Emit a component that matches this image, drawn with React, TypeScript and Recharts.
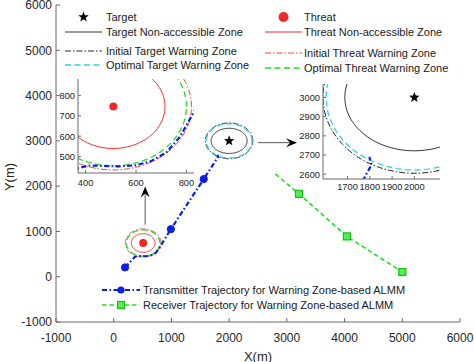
import React from "react";
import { ComposedChart, Line, Scatter, XAxis, YAxis, CartesianGrid, ReferenceLine } from "recharts";

// ---------------- data ----------------
const MAIN_X_TICKS = [-1000, 0, 1000, 2000, 3000, 4000, 5000, 6000];
const MAIN_Y_TICKS = [-1000, 0, 1000, 2000, 3000, 4000, 5000, 6000];
const MAIN_X_DOMAIN = [-1000, 6000];
const MAIN_Y_DOMAIN = [-1000, 6000];

const ZOOM1_X_TICKS = [400, 600, 800];
const ZOOM1_Y_TICKS = [500, 600, 700, 800];
const ZOOM1_X_DOMAIN = [370, 830];
const ZOOM1_Y_DOMAIN = [420, 880];

const ZOOM2_X_TICKS = [1700, 1800, 1900, 2000];
const ZOOM2_Y_TICKS = [2600, 2700, 2800, 2900, 3000];
const ZOOM2_X_DOMAIN = [1590, 2115];
const ZOOM2_Y_DOMAIN = [2575, 3070];

// target and zone radii [rx, ry]
const TARGET = { x: 2000, y: 3000 };
const TARGET_NON_ACCESSIBLE = [312, 278];
const TARGET_INITIAL_WARNING = [410, 395];
const TARGET_OPTIMAL_WARNING = [396, 378];

// threat and zone radii
const THREAT = { x: 510, y: 745 };
const THREAT_NON_ACCESSIBLE = 205;
const THREAT_INITIAL_WARNING = 310;
const THREAT_OPTIMAL_WARNING = 290;

// transmitter trajectory
const TX_X = [196, 370, 410, 470, 530, 600, 660, 720, 775, 830, 990, 1560, 1775, 1808, 1798];
const TX_Y = [205, 443, 456, 455, 452, 458, 478, 520, 598, 720, 1050, 2157, 2580, 2650, 2690];
const TX_MARK = [1, 0, 0, 0, 0, 0, 0, 0, 0, 0, 1, 1, 0, 0, 0];

// receiver trajectory
const RX_X = [2800, 3210, 4040, 5000];
const RX_Y = [2270, 1830, 890, 104];
const RX_MARK = [0, 1, 1, 1];

// annotation arrows [from, to]
const ARROW_THREAT = [{ x: 545, y: 1150 }, { x: 545, y: 1990 }];
const ARROW_TARGET = [{ x: 2500, y: 2960 }, { x: 3175, y: 2960 }];

const LABELS = {
  target: "Target",
  threat: "Threat",
  targetNA: "Target Non-accessible Zone",
  threatNA: "Threat Non-accessible Zone",
  targetInit: "Initial Target Warning Zone",
  threatInit: "Initial Threat Warning Zone",
  targetOpt: "Optimal Target Warning Zone",
  threatOpt: "Optimal Threat Warning Zone",
  tx: "Transmitter Trajectory for Warning Zone-based ALMM",
  rx: "Receiver Trajectory for Warning Zone-based ALMM",
  xTitle: "X(m)",
  yTitle: "Y(m)",
};

// ---------------- styles ----------------
const FONT = '"Liberation Sans", Arial, Helvetica, sans-serif';
const AXIS = "#6b6b6b";
const TEXT = "#262626";
const RED = "#f02828";
const BLUE = "#0a1ee6";
const GREEN_RX = "#22e022";

const STY: Record<string, { stroke: string; dash?: string; w: number }> = {
  targetNA: { stroke: "#333333", w: 1 },
  targetInit: { stroke: "#222222", dash: "6 2 1.5 2", w: 1 },
  targetOpt: { stroke: "#2ad4e6", dash: "6 3.5", w: 1.3 },
  threatNA: { stroke: RED, w: 1 },
  threatInit: { stroke: "#ee4444", dash: "6 2 1.5 2", w: 1 },
  threatOpt: { stroke: "#22dd22", dash: "6 3.5", w: 1.3 },
  tx: { stroke: BLUE, dash: "5 2.5 1.5 2.5", w: 2.2 },
  rx: { stroke: GREEN_RX, dash: "4.5 3", w: 1.6 },
};

// ---------------- helpers ----------------
const ellipse = (c: { x: number; y: number }, rx: number, ry: number) => {
  const pts: { x: number; y: number }[] = [];
  const n = 160;
  for (let i = 0; i <= n; i++) {
    const t = (i / n) * 2 * Math.PI;
    pts.push({ x: c.x + rx * Math.cos(t), y: c.y + ry * Math.sin(t) });
  }
  return pts;
};

const txData = TX_X.map((x, i) => ({ x, y: TX_Y[i], m: TX_MARK[i] }));
const rxData = RX_X.map((x, i) => ({ x, y: RX_Y[i], m: RX_MARK[i] }));

const starPoints = (cx: number, cy: number, R: number) => {
  const pts: string[] = [];
  for (let i = 0; i < 10; i++) {
    const r = i % 2 === 0 ? R : R * 0.42;
    const a = -Math.PI / 2 + (i * Math.PI) / 5;
    pts.push(`${cx + r * Math.cos(a)},${cy + r * Math.sin(a)}`);
  }
  return pts.join(" ");
};

const StarShape = (p: any) => <polygon points={starPoints(p.cx, p.cy, 5.5)} fill="#000" />;
const ThreatShape = (p: any) => <circle cx={p.cx} cy={p.cy} r={4} fill={RED} />;

const txDot = (p: any) =>
  p.payload && p.payload.m ? (
    <circle key={`txd${p.index}`} cx={p.cx} cy={p.cy} r={3.6} fill={BLUE} stroke={BLUE} />
  ) : (
    <g key={`txd${p.index}`} />
  );
const rxDot = (p: any) =>
  p.payload && p.payload.m ? (
    <rect key={`rxd${p.index}`} x={p.cx - 3.5} y={p.cy - 3.5} width={7} height={7} fill="#55ee55" stroke="#10c010" strokeWidth={1.2} />
  ) : (
    <g key={`rxd${p.index}`} />
  );

const ArrowShape = (p: any) => {
  const { x1, y1, x2, y2 } = p;
  const dx = x2 - x1, dy = y2 - y1;
  const len = Math.sqrt(dx * dx + dy * dy) || 1;
  const ux = dx / len, uy = dy / len;
  const nx = -uy, ny = ux;
  const L = 11, Wd = 4.5;
  const bx = x2 - L * ux, by = y2 - L * uy;
  const kx = x2 - L * 0.62 * ux, ky = y2 - L * 0.62 * uy;
  return (
    <g>
      <line x1={x1} y1={y1} x2={kx} y2={ky} stroke="#555" strokeWidth={1} />
      <polygon points={`${x2},${y2} ${bx + Wd * nx},${by + Wd * ny} ${kx},${ky} ${bx - Wd * nx},${by - Wd * ny}`} fill="#000" />
    </g>
  );
};

const zoneLine = (key: string, data: any[], s: { stroke: string; dash?: string; w: number }) => (
  <Line
    key={key}
    data={data}
    dataKey="y"
    type="linear"
    stroke={s.stroke}
    strokeWidth={s.w}
    strokeDasharray={s.dash}
    dot={false}
    activeDot={false}
    isAnimationActive={false}
  />
);

const targetZones = (p: string) => [
  zoneLine(p + "NA", ellipse(TARGET, TARGET_NON_ACCESSIBLE[0], TARGET_NON_ACCESSIBLE[1]), STY.targetNA),
  zoneLine(p + "Init", ellipse(TARGET, TARGET_INITIAL_WARNING[0], TARGET_INITIAL_WARNING[1]), STY.targetInit),
  zoneLine(p + "Opt", ellipse(TARGET, TARGET_OPTIMAL_WARNING[0], TARGET_OPTIMAL_WARNING[1]), STY.targetOpt),
];
const threatZones = (p: string) => [
  zoneLine(p + "NA", ellipse(THREAT, THREAT_NON_ACCESSIBLE, THREAT_NON_ACCESSIBLE), STY.threatNA),
  zoneLine(p + "Init", ellipse(THREAT, THREAT_INITIAL_WARNING, THREAT_INITIAL_WARNING), STY.threatInit),
  zoneLine(p + "Opt", ellipse(THREAT, THREAT_OPTIMAL_WARNING, THREAT_OPTIMAL_WARNING), STY.threatOpt),
];

// ---------------- inset ----------------
function Inset(p: any) {
  const padL = 34, padB = 22, padT = 1, padR = 1;
  const cw = p.width + padL + padR;
  const ch = p.height + padT + padB;
  const tickStyle = { fontSize: 9.3, fill: TEXT, fontFamily: FONT };
  return (
    <div style={{ position: "absolute", left: p.left - padL, top: p.top - padT, width: cw, height: ch }}>
      <ComposedChart width={cw} height={ch} margin={{ top: padT, right: padR, left: 0, bottom: 0 }}>
        <CartesianGrid fill="#ffffff" fillOpacity={1} stroke="none" horizontal={false} vertical={false} />
        <XAxis type="number" dataKey="x" domain={p.xDomain} ticks={p.xTicks} allowDataOverflow height={padB}
          tickSize={-3} tickMargin={p.xTickMargin} stroke={AXIS} tick={tickStyle} interval={0} />
        <XAxis xAxisId="t" orientation="top" type="number" domain={p.xDomain} ticks={p.xTicks} allowDataOverflow
          height={0} tickSize={-3} tick={false} stroke={AXIS} />
        <YAxis type="number" dataKey="y" domain={p.yDomain} ticks={p.yTicks} allowDataOverflow width={padL}
          tickSize={-3} tickMargin={p.yTickMargin} stroke={AXIS} tick={tickStyle} interval={0} />
        <YAxis yAxisId="r" orientation="right" type="number" domain={p.yDomain} ticks={p.yTicks} allowDataOverflow
          width={0} tickSize={-3} tick={false} stroke={AXIS} />
        {p.children}
      </ComposedChart>
    </div>
  );
}

// ---------------- legend ----------------
function LegendIcon({ kind, x1, x2, y, s }: any) {
  const cx = (x1 + x2) / 2;
  if (kind === "star") return <polygon points={starPoints(cx, y, 5.5)} fill="#000" />;
  if (kind === "dot") return <circle cx={cx} cy={y} r={5} fill={RED} />;
  const line = <line x1={x1} x2={x2} y1={y} y2={y} stroke={s.stroke} strokeWidth={s.w} strokeDasharray={s.dash} />;
  if (kind === "lineCircle")
    return (
      <g>
        {line}
        <circle cx={cx} cy={y} r={3.6} fill={BLUE} />
      </g>
    );
  if (kind === "lineSquare")
    return (
      <g>
        {line}
        <rect x={cx - 3.5} y={y - 3.5} width={7} height={7} fill="#55ee55" stroke="#10c010" strokeWidth={1.2} />
      </g>
    );
  return line;
}

const TOP_LEGEND = [
  { key: "target", kind: "star", col: 0, row: 0 },
  { key: "threat", kind: "dot", col: 1, row: 0 },
  { key: "targetNA", kind: "line", col: 0, row: 1 },
  { key: "threatNA", kind: "line", col: 1, row: 1 },
  { key: "targetInit", kind: "line", col: 0, row: 2 },
  { key: "threatInit", kind: "line", col: 1, row: 2 },
  { key: "targetOpt", kind: "line", col: 0, row: 3 },
  { key: "threatOpt", kind: "line", col: 1, row: 3 },
];
const BOTTOM_LEGEND = [
  { key: "tx", kind: "lineCircle", row: 0 },
  { key: "rx", kind: "lineSquare", row: 1 },
];

function Overlay() {
  const colIcon = [[65, 102], [265, 302]];
  const colText = [106, 304];
  const rowY = [[17, 32, 51, 65], [17, 32, 53, 68]];
  const botY = [290, 305];
  return (
    <svg width={474} height={362} style={{ position: "absolute", left: 0, top: 0, pointerEvents: "none" }} fontFamily={FONT}>
      {TOP_LEGEND.map((it) => {
        const y = rowY[it.col][it.row];
        return (
          <g key={it.key}>
            <LegendIcon kind={it.kind} x1={colIcon[it.col][0]} x2={colIcon[it.col][1]} y={y} s={STY[it.key]} />
            <text x={colText[it.col]} y={y} dominantBaseline="central" fontSize={11} fill="#1a1a1a">
              {(LABELS as any)[it.key]}
            </text>
          </g>
        );
      })}
      {BOTTOM_LEGEND.map((it) => {
        const y = botY[it.row];
        return (
          <g key={it.key}>
            <LegendIcon kind={it.kind} x1={102} x2={140} y={y} s={STY[it.key]} />
            <text x={143} y={y} dominantBaseline="central" fontSize={11} fill="#1a1a1a">
              {(LABELS as any)[it.key]}
            </text>
          </g>
        );
      })}
      <text x={258} y={356} textAnchor="middle" dominantBaseline="central" fontSize={13} fill={TEXT}>
        {LABELS.xTitle}
      </text>
      <text x={9} y={177} textAnchor="middle" dominantBaseline="central" fontSize={13} fill={TEXT} transform="rotate(-90 9 177)">
        {LABELS.yTitle}
      </text>
    </svg>
  );
}

// ---------------- app ----------------
export default function App() {
  const tick = { fontSize: 12, fill: TEXT, fontFamily: FONT };
  return (
    <div style={{ position: "absolute", left: 0, top: 0, width: 474, height: 362, background: "#fff", fontFamily: FONT }}>
      <div style={{ position: "absolute", left: 0, top: 0 }}>
        <ComposedChart width={474} height={362} margin={{ top: 5, right: 14, left: 8, bottom: 0 }}>
          <XAxis type="number" dataKey="x" domain={MAIN_X_DOMAIN} ticks={MAIN_X_TICKS} height={40} tickSize={-4}
            tickMargin={15} stroke={AXIS} tick={tick} interval={0} />
          <XAxis xAxisId="t" orientation="top" type="number" domain={MAIN_X_DOMAIN} ticks={MAIN_X_TICKS} height={0}
            tickSize={-4} tick={false} stroke={AXIS} />
          <YAxis type="number" dataKey="y" domain={MAIN_Y_DOMAIN} ticks={MAIN_Y_TICKS} width={48} tickSize={-4}
            tickMargin={8} stroke={AXIS} tick={tick} interval={0} />
          <YAxis yAxisId="r" orientation="right" type="number" domain={MAIN_Y_DOMAIN} ticks={MAIN_Y_TICKS} width={0}
            tickSize={-4} tick={false} stroke={AXIS} />
          {threatZones("m_th")}
          {targetZones("m_tg")}
          <Line data={rxData} dataKey="y" type="linear" stroke={STY.rx.stroke} strokeWidth={STY.rx.w}
            strokeDasharray={STY.rx.dash} dot={rxDot} activeDot={false} isAnimationActive={false} />
          <Line data={txData} dataKey="y" type="linear" stroke={STY.tx.stroke} strokeWidth={STY.tx.w}
            strokeDasharray={STY.tx.dash} dot={txDot} activeDot={false} isAnimationActive={false} />
          <Scatter data={[TARGET]} dataKey="y" shape={StarShape} isAnimationActive={false} />
          <Scatter data={[THREAT]} dataKey="y" shape={ThreatShape} isAnimationActive={false} />
          <ReferenceLine segment={ARROW_THREAT} shape={ArrowShape} />
          <ReferenceLine segment={ARROW_TARGET} shape={ArrowShape} />
        </ComposedChart>
      </div>

      <Inset left={78} top={79} width={116} height={94} xDomain={ZOOM1_X_DOMAIN} yDomain={ZOOM1_Y_DOMAIN}
        xTicks={ZOOM1_X_TICKS} yTicks={ZOOM1_Y_TICKS} xTickMargin={9} yTickMargin={6}>
        {threatZones("z1")}
        <Line data={txData} dataKey="y" type="linear" stroke={STY.tx.stroke} strokeWidth={STY.tx.w}
          strokeDasharray={STY.tx.dash} dot={false} activeDot={false} isAnimationActive={false} />
        <Scatter data={[THREAT]} dataKey="y" shape={ThreatShape} isAnimationActive={false} />
      </Inset>

      <Inset left={323} top={84} width={117} height={95} xDomain={ZOOM2_X_DOMAIN} yDomain={ZOOM2_Y_DOMAIN}
        xTicks={ZOOM2_X_TICKS} yTicks={ZOOM2_Y_TICKS} xTickMargin={7} yTickMargin={6}>
        {targetZones("z2")}
        <Line data={txData} dataKey="y" type="linear" stroke={STY.tx.stroke} strokeWidth={STY.tx.w}
          strokeDasharray={STY.tx.dash} dot={false} activeDot={false} isAnimationActive={false} />
        <Scatter data={[TARGET]} dataKey="y" shape={StarShape} isAnimationActive={false} />
      </Inset>

      <Overlay />
    </div>
  );
}
